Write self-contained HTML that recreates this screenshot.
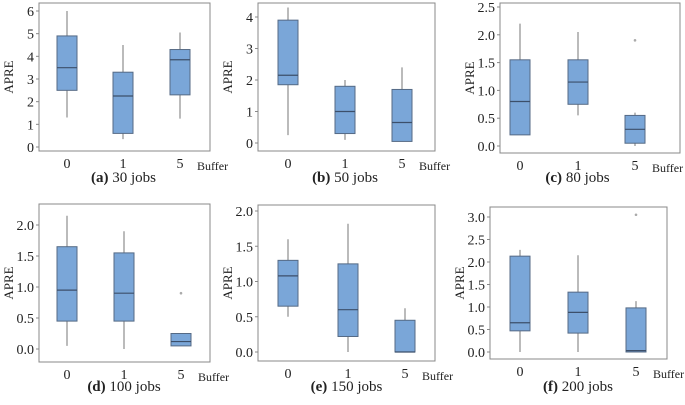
<!DOCTYPE html>
<html><head><meta charset="utf-8"><style>
body{margin:0;background:#fff}
svg text{font-family:"Liberation Serif","DejaVu Serif",serif;fill:#222}
</style></head><body>
<svg id="chart" width="685" height="400" xmlns="http://www.w3.org/2000/svg"></svg>
<script>
const categories=["0","1","5"];
const statsA=[[1.3,2.5,3.5,4.9,6],[0.35,0.6,2.25,3.3,4.5],[1.25,2.3,3.85,4.3,5.05]];
const statsB=[[0.25,1.85,2.15,3.9,4.3],[0.1,0.3,1.0,1.8,2.0],[0.05,0.05,0.65,1.7,2.4]];
const statsC=[[0.2,0.2,0.8,1.55,2.2],[0.55,0.75,1.15,1.55,2.05],[0,0.05,0.3,0.55,0.6]];
const statsD=[[0.05,0.45,0.95,1.65,2.15],[0,0.45,0.9,1.55,1.9],[0.05,0.05,0.12,0.25,0.25]];
const statsE=[[0.5,0.65,1.08,1.3,1.6],[0,0.22,0.6,1.25,1.82],[0,0,0,0.45,0.62]];
const statsF=[[0,0.47,0.65,2.13,2.27],[0,0.42,0.88,1.33,2.15],[0,0,0.03,0.98,1.13]];
const outliersC=[null,null,1.9];
const outliersD=[null,null,0.9];
const outliersE=[null,null,null];
const outliersF=[null,null,3.05];
const ticksA=[0,1,2,3,4,5,6];
const ticksB=[0,1,2,3,4];
const ticksC=[0,0.5,1,1.5,2,2.5];
const ticksD=[0,0.5,1,1.5,2];
const ticksE=[0,0.5,1,1.5,2];
const ticksF=[0,0.5,1,1.5,2,2.5,3];
const svg=document.getElementById('chart');
const NS="http://www.w3.org/2000/svg";
const FF='"Liberation Serif", serif';
function mk(tag,attrs,parent){const e=document.createElementNS(NS,tag);for(const k in attrs)e.setAttribute(k,attrs[k]);if(tag==='text')e.setAttribute('font-family',FF);(parent||svg).appendChild(e);return e;}
const panels=[
{id:'a',label:'30 jobs',stats:statsA,ticks:ticksA,dec:0,fx:39,fy:3,fw:171,fh:148,y0:147,y1:11,cx:[67,123,180],capY:182,out:[null,null,null]},
{id:'b',label:'50 jobs',stats:statsB,ticks:ticksB,dec:0,fx:258,fy:3,fw:177,fh:148,y0:143,y1:17,cx:[288,345,402],capY:182,out:[null,null,null]},
{id:'c',label:'80 jobs',stats:statsC,ticks:ticksC,dec:1,fx:500,fy:3,fw:180,fh:150,y0:146,y1:7,cx:[520,578,635],capY:182,out:outliersC},
{id:'d',label:'100 jobs',stats:statsD,ticks:ticksD,dec:1,fx:39,fy:204,fw:171,fh:158,y0:349,y1:225,cx:[67,124,181],capY:391,out:outliersD},
{id:'e',label:'150 jobs',stats:statsE,ticks:ticksE,dec:1,fx:258,fy:205,fw:177,fh:156,y0:352,y1:211,cx:[288,348,405],capY:391,out:outliersE},
{id:'f',label:'200 jobs',stats:statsF,ticks:ticksF,dec:1,fx:490,fy:207,fw:177,fh:152,y0:352,y1:217,cx:[520,578,636],capY:391,out:outliersF}
];
panels.forEach(p=>{
  const g=mk('g',{});
  
  
  const tmax=p.ticks[p.ticks.length-1];
  const ys=v=>p.y0+(p.y1-p.y0)*v/tmax;
  const fr=mk('rect',{x:p.fx,y:p.fy,width:p.fw,height:p.fh,fill:'none',stroke:'#888','stroke-width':1},g);
  
  
  p.ticks.forEach(t=>{
    mk('line',{x1:p.fx-3,x2:p.fx,y1:ys(t),y2:ys(t),stroke:'#888'},g);
    const tx=mk('text',{x:p.fx-5,y:ys(t)+5,'text-anchor':'end','font-size':14},g);
    tx.textContent=t.toFixed(p.dec);
    
    
  });
  const yl=mk('text',{x:0,y:0,transform:`translate(${p.fx-26},${(p.fy+p.fy+p.fh)/2}) rotate(-90)`,'text-anchor':'middle','font-size':13},g);
  yl.textContent='APRE';
  
  
  p.stats.forEach((s,i)=>{
    const x=p.cx[i];
    mk('line',{x1:x,x2:x,y1:ys(s[0]),y2:ys(s[4]),stroke:'#777','stroke-width':1},g);
    const b=mk('rect',{x:x-10,y:ys(s[3]),width:20,height:Math.max(1,ys(s[1])-ys(s[3])),fill:'#7aa6d8',stroke:'#556a85','stroke-width':1},g);
    
    
    mk('line',{x1:x-10,x2:x+10,y1:ys(s[2]),y2:ys(s[2]),stroke:'#3c4f6a','stroke-width':1.2},g);
    if(p.out[i]!=null){const o=mk('circle',{cx:x,cy:ys(p.out[i]),r:1.3,fill:'#aaa'},g);
      
      }
    const xl=mk('text',{x:x,y:p.fy+p.fh+17,'text-anchor':'middle','font-size':14},g);
    xl.textContent=categories[i];
    
    
  });
  const bl=mk('text',{x:p.cx[2]+17,y:p.fy+p.fh+19,'font-size':12},g);
  bl.textContent='Buffer';
  
  
  const cap=mk('text',{x:(p.cx[0]+p.cx[2])/2,y:p.capY,'text-anchor':'middle','font-size':15},g);
  cap.innerHTML=`<tspan font-weight="bold">(${p.id})</tspan> ${p.label}`;
  
  
});
</script>
</body></html>
